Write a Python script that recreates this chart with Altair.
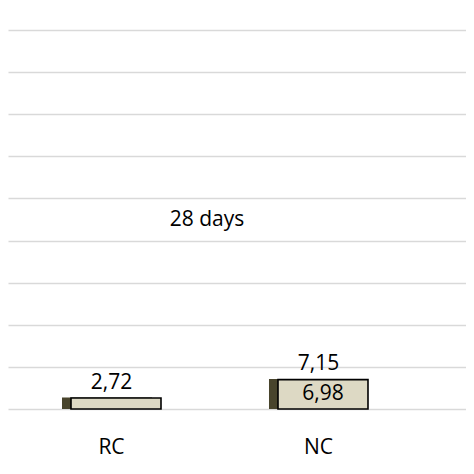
import altair as alt
import pandas as pd

categories = ["RC", "NC"]
dark_values = [2.72, 7.15]
light_values = [2.60, 6.98]
dark_labels = ["2,72", "7,15"]
light_labels = ["", "6,98"]
panel_title = "28 days"

df = pd.DataFrame({
    "cat": categories,
    "dark": dark_values,
    "light": light_values,
    "dark_lbl": dark_labels,
    "light_lbl": light_labels,
})

FONT = "Open Sans"
DARK = "#48442c"
LIGHT = "#ddd9c4"
FS = 21

x = alt.X("cat:N", sort=categories, title=None,
          scale=alt.Scale(paddingInner=0, paddingOuter=0.1063, align=0),
          axis=alt.Axis(labelAngle=0, ticks=False, domain=False, labelPadding=27,
                        labelFontSize=FS, labelFont=FONT, labelColor="#000000"))
yscale = alt.Scale(domain=[0, 90])
yaxis = alt.Axis(labels=False, ticks=False, domain=False, title=None, values=list(range(0, 100, 10)),
                 gridColor="#d9d9d9", gridWidth=1.6)

base = alt.Chart(df)

dark_bar = base.mark_bar(size=90, xOffset=-4.5, color=DARK).encode(
    x=x, y=alt.Y("dark:Q", scale=yscale, axis=yaxis))
light_bar = base.mark_bar(size=90, xOffset=4.5, fill=LIGHT, stroke="#000000", strokeWidth=1.6).encode(
    x=x, y=alt.Y("light:Q", scale=yscale))
dark_text = base.mark_text(baseline="bottom", dy=-5, fontSize=FS, font=FONT, color="#000000").encode(
    x=x, y=alt.Y("dark:Q", scale=yscale), text="dark_lbl:N")
light_text = base.transform_calculate(mid="datum.light / 2").mark_text(
    baseline="middle", xOffset=4.5, fontSize=FS, font=FONT, color="#000000").encode(
    x=x, y=alt.Y("mid:Q", scale=yscale), text="light_lbl:N")
title_text = alt.Chart(pd.DataFrame({"t": [panel_title]})).mark_text(
    baseline="middle", fontSize=FS, font=FONT, color="#000000").encode(
    x=alt.value(199), y=alt.datum(45, scale=yscale), text="t:N")

chart = alt.layer(dark_bar, light_bar, dark_text, light_text, title_text).properties(
    width=458, height=379, padding={"left": 0, "top": 22, "right": 0, "bottom": 12}
).configure_view(stroke=None)

chart.save("out.html", embed_options={"renderer": "svg", "actions": False})
